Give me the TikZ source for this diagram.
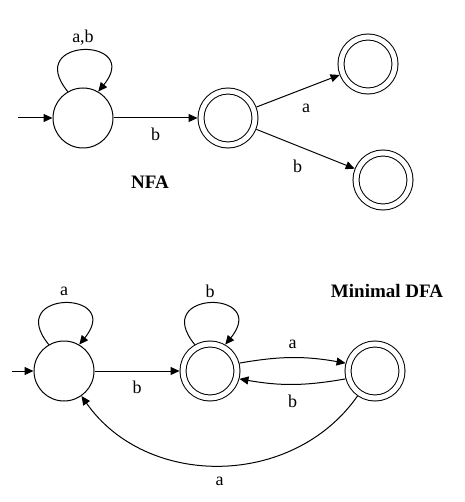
\documentclass[tikz,border=0pt]{standalone}
\usepackage{fontspec}
\setmainfont{Liberation Serif}
\usetikzlibrary{arrows.meta}
\tikzset{
  every picture/.style={x=1pt,y=1pt},
  state/.style={circle,draw,line width=1pt,minimum size=60pt,inner sep=0pt},
  accept/.style={circle,draw,line width=1pt,minimum size=54pt,inner sep=0pt,double,double distance=5pt,outer sep=3.5pt},
  arr/.style={line width=1pt,-{Triangle[length=9pt,width=8pt]}},
  lab/.style={font=\fontsize{18}{20}\selectfont,inner sep=0pt},
  title/.style={font=\fontsize{19}{22}\selectfont\bfseries,inner sep=0pt}
}
\begin{document}
\begin{tikzpicture}
\useasboundingbox (0,0) rectangle (464,-502);
% NFA
\node[state]  (q0) at (83,-118) {};
\node[accept] (q1) at (228,-118) {};
\node[accept] (q2) at (368,-64) {};
\node[accept] (q3) at (383,-180) {};
\coordinate (s0) at (18,-118);
\node[title] (tnfa) at (150,-182) {NFA};
\draw[arr] (s0) -- (q0);
\draw[arr] (q0.120) .. controls +(-45,55) and +(45,55) .. node[lab,pos=.5,yshift=13pt] (l1) {a,b} (q0.60);
\draw[arr] (q0) -- node[lab,pos=.5,yshift=-16pt] (l2) {b} (q1);
\draw[arr] (q1) -- node[lab,pos=.5,xshift=8pt,yshift=-17pt] (l3) {a} (q2);
\draw[arr] (q1) -- node[lab,pos=.5,xshift=-8pt,yshift=-17pt] (l4) {b} (q3);
% DFA
\node[state]  (d0) at (64,-371) {};
\node[accept] (d1) at (210,-371) {};
\node[accept] (d2) at (375,-371) {};
\coordinate (s1) at (12,-371);
\node[title] (tdfa) at (387,-291) {Minimal DFA};
\draw[arr] (s1) -- (d0);
\draw[arr] (d0.120) .. controls +(-45,55) and +(45,55) .. node[lab,pos=.5,yshift=12pt] (l5) {a} (d0.60);
\draw[arr] (d1.120) .. controls +(-45,55) and +(45,55) .. node[lab,pos=.5,yshift=12pt] (l6) {b} (d1.60);
\draw[arr] (d0) -- node[lab,pos=.5,yshift=-16pt] (l7) {b} (d1);
\draw[arr] (d1.15) to[bend left=10] node[lab,pos=.5,yshift=13pt] (l8) {a} (d2.165);
\draw[arr] (d2.195) to[bend left=10] node[lab,pos=.5,yshift=-17pt] (l9) {b} (d1.-15);
\draw[arr] (d2) to[out=235,in=-55,looseness=1.05] node[lab,pos=.5,yshift=-16pt] (l10) {a} (d0);
\end{tikzpicture}
\end{document}
